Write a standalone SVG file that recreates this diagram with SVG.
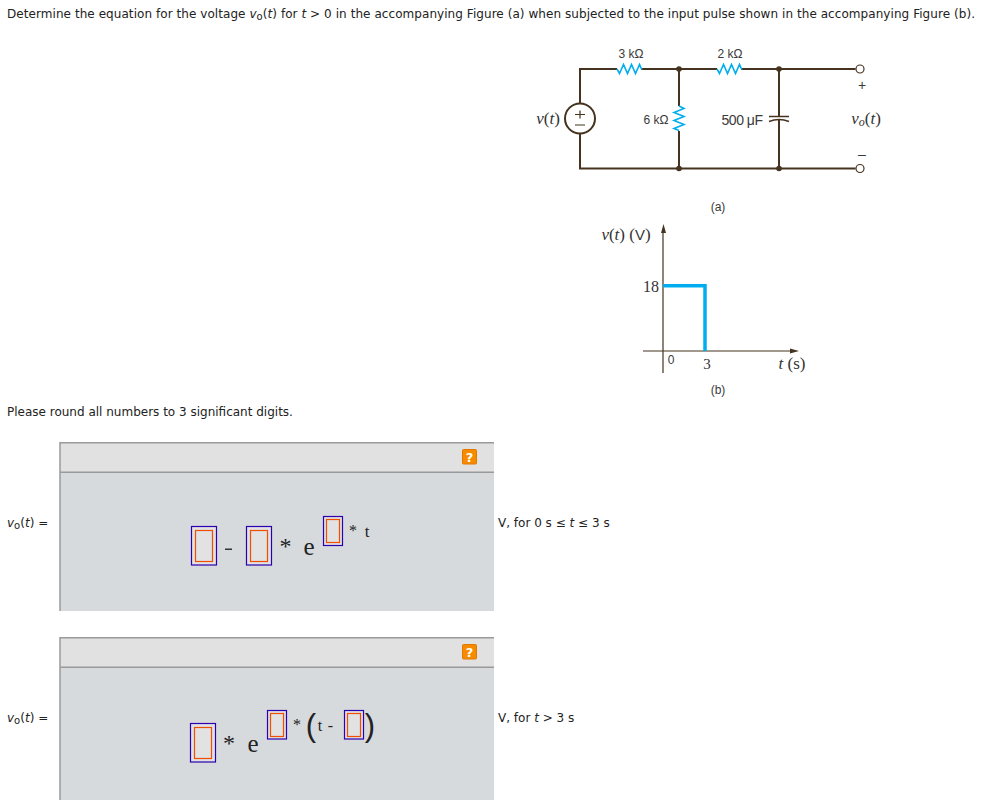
<svg xmlns="http://www.w3.org/2000/svg" width="982" height="800" viewBox="0 0 982 800">
<style>
text{font-family:"DejaVu Sans",Verdana,sans-serif;font-size:12px;fill:#222}
.i{font-style:italic}
.a{font-family:"Liberation Sans",Arial,sans-serif;font-size:12px;fill:#3a3a3a}
.s{font-family:"Liberation Serif","Times New Roman",serif;font-size:17px;fill:#333}
.w{fill:none;stroke:#45321f;stroke-width:2}
.r{fill:none;stroke:#00aeef;stroke-width:1.6}
.d{fill:#45321f}
.t{fill:#fff;stroke:#45321f;stroke-width:1.2}
.o{fill:#e2e2e2;stroke:#2a00b0;stroke-width:1.2}
.n{fill:#e2e2e2;stroke:#f04e00;stroke-width:1.2}
.h{fill:#e1e1e1}
.l{stroke:#9a9a9a;stroke-width:1.5;fill:none}
.p{fill:#d7dadd}
.e{font-family:"Liberation Serif","Times New Roman",serif;fill:#222}
.q{fill:#f68b00;stroke:#e07800}
</style>
<rect width="982" height="800" fill="#fff"/>
<text x="7" y="18" textLength="968" lengthAdjust="spacing">Determine the equation for the voltage <tspan class="i">v</tspan><tspan font-size="10" dy="2">o</tspan><tspan dy="-2">(</tspan><tspan class="i">t</tspan>) for <tspan class="i">t</tspan> &gt; 0 in the accompanying Figure (a) when subjected to the input pulse shown in the accompanying Figure (b).</text>
<g id="connectors">
<path class="w" d="M617 69H580V103M580 134V168.500H855.500M641 69H717M741 69H855.500M679 69V106M679 131V168.500M779 69V116M779 120V168.500"/>
<path class="r" d="M617 69l2.500 4.500 4-9 4 9 4-9 4 9 4-9 2 4.500H641"/>
<path class="r" d="M717 69l2.500 4.500 4-9 4 9 4-9 4 9 4-9 2 4.500H741"/>
<path class="r" d="M679 106l5 2.500-10 4 10 4-10 4 10 4-10 4 5 2"/>
</g>
<g id="source"><circle cx="580" cy="118.500" r="15" fill="#fff" stroke="#45321f" stroke-width="2"/><path d="M575 114.500h10M580 110.500v8M575 125h10" stroke="#45321f" stroke-width="1.200" fill="none"/></g>
<g id="capacitor"><path d="M769 116.500h20M769 121.500q10-4 20 0" fill="none" stroke="#45321f" stroke-width="1.400"/></g>
<g id="junctions"><circle class="d" cx="679" cy="69" r="2.800"/><circle class="d" cx="779" cy="69" r="2.800"/><circle class="d" cx="679" cy="168.500" r="2.800"/><circle class="d" cx="779" cy="168.500" r="2.800"/></g>
<g id="terminals"><circle class="t" cx="860" cy="69" r="4"/><circle class="t" cx="860" cy="168.500" r="4"/></g>
<g id="labels-a">
<text class="a" x="631" y="58" text-anchor="middle">3 kΩ</text>
<text class="a" x="730" y="58" text-anchor="middle">2 kΩ</text>
<text class="a" x="656" y="124" text-anchor="middle">6 kΩ</text>
<text class="a" x="742" y="125" text-anchor="middle" style="font-size:14px;letter-spacing:-.5px">500 μF</text>
<text class="a" x="862" y="89.500" text-anchor="middle" style="font-size:14px">+</text>
<text class="a" x="862" y="159" text-anchor="middle" style="font-size:14px">–</text>
<text class="s" x="548" y="124" text-anchor="middle"><tspan class="i">v</tspan>(<tspan class="i">t</tspan>)</text>
<text class="s" x="866" y="124" text-anchor="middle"><tspan class="i">v</tspan><tspan class="i" font-size="12" dy="2">o</tspan><tspan dy="-2">(</tspan><tspan class="i">t</tspan>)</text>
<text class="a" x="718" y="211" text-anchor="middle">(a)</text>
</g>
<g id="plot">
<path d="M663 232V373M643 351H795" stroke="#45321f" stroke-width="1.200" fill="none"/>
<path class="d" d="M663.500 224l2.500 9h-5zM799 351l-9 2.500v-5z"/>
<path d="M663 285.700H705V351" fill="none" stroke="#00aeef" stroke-width="3.500"/>
<text class="s" x="626" y="239.500" text-anchor="middle"><tspan class="i">v</tspan>(<tspan class="i">t</tspan>) (<tspan class="a" style="font-size:15px">V</tspan>)</text>
<text class="s" x="651" y="291.500" text-anchor="middle" style="font-size:16px">18</text>
<text class="a" x="671" y="364" text-anchor="middle">0</text>
<text class="s" x="707" y="369" text-anchor="middle" style="font-size:15px">3</text>
<text class="s" x="792" y="369" text-anchor="middle"><tspan class="i">t</tspan> (s)</text>
<text class="a" x="718" y="394" text-anchor="middle">(b)</text>
</g>
<text x="7" y="415.500">Please round all numbers to 3 significant digits.</text>
<g id="panel1">
<rect class="p" x="60" y="472" width="434" height="139"/>
<rect class="h" x="60" y="442" width="434" height="30"/>
<path class="l" d="M494 442.700H60V611M60 472.200H494"/>
<g id="help1"><rect class="q" x="462.500" y="449.500" width="14" height="14.500" rx="1"/><text x="469.500" y="461.500" text-anchor="middle" style="font-size:13px;font-weight:700;fill:#fff">?</text></g>
<text x="7" y="527"><tspan class="i">v</tspan><tspan font-size="10" dy="2">o</tspan><tspan dy="-2">(</tspan><tspan class="i">t</tspan>) =</text>
<rect class="o" x="191.500" y="526.500" width="25" height="38.500"/><rect class="n" x="195.500" y="530.500" width="17" height="31"/>
<rect class="o" x="246.500" y="526.500" width="25" height="38.500"/><rect class="n" x="250.500" y="530.500" width="17" height="31"/>
<rect class="o" x="323.500" y="516.500" width="19" height="29"/><rect class="n" x="326.500" y="519.500" width="13" height="23"/>
<rect x="225" y="548.500" width="7" height="1.500" fill="#333"/>
<text class="e" x="285.500" y="554" text-anchor="middle" style="font-size:24px">*</text>
<text class="e" x="309" y="555" text-anchor="middle" style="font-size:25px">e</text>
<text class="e" x="353" y="536" text-anchor="middle" style="font-size:16px">*</text>
<text class="e" x="367" y="537" text-anchor="middle" style="font-size:17px">t</text>
<text x="498" y="527">V, for 0 s ≤ <tspan class="i">t</tspan> ≤ 3 s</text>
</g>
<g id="panel2">
<rect class="p" x="60" y="667" width="434" height="133"/>
<rect class="h" x="60" y="637" width="434" height="30"/>
<path class="l" d="M494 637.700H60V800M60 667.200H494"/>
<g id="help2"><rect class="q" x="462.500" y="644.500" width="14" height="14.500" rx="1"/><text x="469.500" y="656.500" text-anchor="middle" style="font-size:13px;font-weight:700;fill:#fff">?</text></g>
<text x="7" y="722"><tspan class="i">v</tspan><tspan font-size="10" dy="2">o</tspan><tspan dy="-2">(</tspan><tspan class="i">t</tspan>) =</text>
<rect class="o" x="190.500" y="723.500" width="25" height="38.500"/><rect class="n" x="194.500" y="727.500" width="17" height="31"/>
<rect class="o" x="267.500" y="710.500" width="19" height="28.500"/><rect class="n" x="270.500" y="713.500" width="13" height="23"/>
<rect class="o" x="344.500" y="710.500" width="19" height="28.500"/><rect class="n" x="347.500" y="713.500" width="13" height="23"/>
<text class="e" x="229" y="751" text-anchor="middle" style="font-size:24px">*</text>
<text class="e" x="253" y="752" text-anchor="middle" style="font-size:25px">e</text>
<text class="e" x="297" y="730" text-anchor="middle" style="font-size:16px">*</text>
<text x="311" y="736" text-anchor="middle" style="font-family:'Liberation Sans',Arial,sans-serif;font-size:31px;fill:#222">(</text>
<text class="e" x="320" y="731" text-anchor="middle" style="font-size:16px">t</text>
<text class="e" x="330.500" y="731" text-anchor="middle" style="font-size:16px">-</text>
<text x="370" y="736" text-anchor="middle" style="font-family:'Liberation Sans',Arial,sans-serif;font-size:31px;fill:#222">)</text>
<text x="498" y="722">V, for <tspan class="i">t</tspan> &gt; 3 s</text>
</g>
</svg>
